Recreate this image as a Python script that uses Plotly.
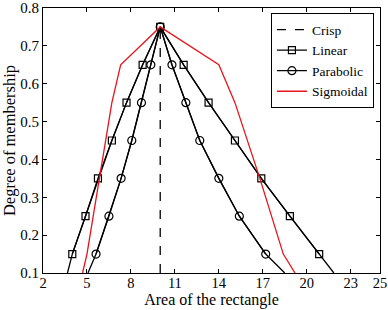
import plotly.graph_objects as go

# Crisp
crisp_x = [10, 10]
crisp_y = [0.1, 0.75]

# Linear
lin_x = [3.67, 4.0, 4.9, 5.75, 6.7, 7.7, 8.8, 10.0, 11.6, 13.3, 15.1, 16.9, 18.85, 20.85, 21.85]
lin_y = [0.1, 0.15, 0.25, 0.35, 0.45, 0.55, 0.65, 0.75, 0.65, 0.55, 0.45, 0.35, 0.25, 0.15, 0.1]
lin_mx = [4.0, 4.9, 5.75, 6.7, 7.7, 8.8, 10.0, 11.6, 13.3, 15.1, 16.9, 18.85, 20.85]
lin_my = [0.15, 0.25, 0.35, 0.45, 0.55, 0.65, 0.75, 0.65, 0.55, 0.45, 0.35, 0.25, 0.15]

# Parabolic
par_x = [5.07, 5.62, 6.5, 7.33, 8.06, 8.72, 9.36, 10.0, 10.8, 11.75, 12.7, 14.0, 15.4, 17.2, 18.5]
par_y = [0.1, 0.15, 0.25, 0.35, 0.45, 0.55, 0.65, 0.75, 0.65, 0.55, 0.45, 0.35, 0.25, 0.15, 0.1]
par_mx = [5.62, 6.5, 7.33, 8.06, 8.72, 9.36, 10.0, 10.8, 11.75, 12.7, 14.0, 15.4, 17.2]
par_my = [0.15, 0.25, 0.35, 0.45, 0.55, 0.65, 0.75, 0.65, 0.55, 0.45, 0.35, 0.25, 0.15]

# Sigmoidal
sig_x = [4.7, 5.0, 5.85, 6.7, 7.3, 10.0, 14.0, 15.1, 16.8, 18.4, 19.2]
sig_y = [0.1, 0.15, 0.35, 0.55, 0.65, 0.75, 0.65, 0.55, 0.35, 0.15, 0.1]

x_ticks = [2, 5, 8, 11, 14, 17, 20, 23, 25]
y_ticks = [0.1, 0.2, 0.3, 0.4, 0.5, 0.6, 0.7, 0.8]

FONT = "Liberation Serif"

fig = go.Figure()
fig.add_trace(go.Scatter(x=crisp_x, y=crisp_y, mode="lines", name="Crisp",
                         line=dict(color="black", width=1.3, dash="dash")))
fig.add_trace(go.Scatter(x=lin_x, y=lin_y, mode="lines", name="Linear", showlegend=False,
                         line=dict(color="black", width=1.3)))
fig.add_trace(go.Scatter(x=lin_mx, y=lin_my, mode="lines+markers", name="Linear",
                         line=dict(color="black", width=1.3),
                         marker=dict(symbol="square-open", size=7, color="black", line=dict(width=1.2))))
fig.add_trace(go.Scatter(x=par_x, y=par_y, mode="lines", name="Parabolic", showlegend=False,
                         line=dict(color="black", width=1.3)))
fig.add_trace(go.Scatter(x=par_mx, y=par_my, mode="lines+markers", name="Parabolic",
                         line=dict(color="black", width=1.3),
                         marker=dict(symbol="circle-open", size=8, color="black", line=dict(width=1.2))))
fig.add_trace(go.Scatter(x=sig_x, y=sig_y, mode="lines", name="Sigmoidal",
                         line=dict(color="#e8141c", width=1.3)))

axis_common = dict(showgrid=False, zeroline=False, showline=True, linecolor="black", linewidth=1,
                   mirror="ticks", ticks="inside", ticklen=4, tickcolor="black", automargin=True)

fig.update_xaxes(range=[2, 25], tickvals=x_ticks, ticktext=[str(v) for v in x_ticks],
                 tickfont=dict(family=FONT, size=14.5, color="black"), ticklabelstandoff=-3,
                 title=dict(text="Area of the rectangle", font=dict(family=FONT, size=16, color="black"), standoff=0),
                 **axis_common)
fig.update_yaxes(range=[0.1, 0.8], tickvals=y_ticks, ticktext=[f"{v:.1f}" for v in y_ticks],
                 tickfont=dict(family=FONT, size=15, color="black"),
                 title=dict(text="Degree of membership", font=dict(family=FONT, size=16.5, color="black"), standoff=2),
                 **axis_common)

fig.update_layout(
    width=388, height=310,
    margin=dict(l=43, r=8, t=8, b=37, autoexpand=False),
    plot_bgcolor="white", paper_bgcolor="white",
    font=dict(family=FONT, size=14, color="black"),
    legend=dict(x=0.982, y=0.98, xanchor="right", yanchor="top",
                bordercolor="black", borderwidth=1, bgcolor="white",
                font=dict(family=FONT, size=13.5, color="black"),
                itemwidth=30, tracegroupgap=0),
)

fig.write_html("out.html")
